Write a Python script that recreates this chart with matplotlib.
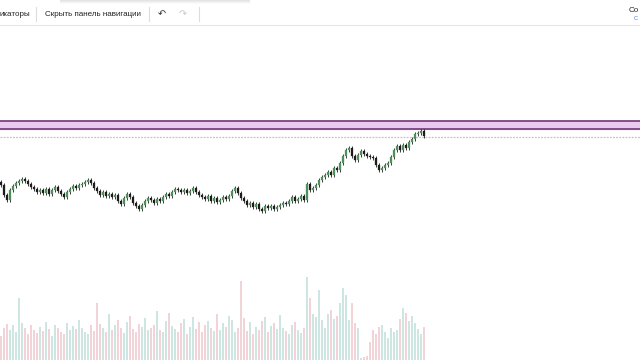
import matplotlib
matplotlib.use("Agg")
import matplotlib.pyplot as plt
import numpy as np
from matplotlib.patches import Rectangle

# Closing prices per bar (chart units)
closes = [175, 165, 160, 170, 174, 177, 179, 181, 179, 176, 173, 171, 168, 170, 167, 171,
          166, 170, 173, 169, 166, 163, 168, 171, 174, 172, 175, 176, 178, 180, 177, 172,
          169, 165, 168, 164, 166, 163, 165, 159, 156, 162, 166, 163, 157, 154, 151, 155,
          159, 162, 160, 157, 161, 159, 163, 166, 164, 168, 171, 170, 168, 170, 167, 169,
          172, 168, 165, 163, 161, 164, 159, 162, 158, 160, 163, 161, 164, 169, 172, 167,
          162, 159, 155, 157, 153, 156, 151, 149, 154, 152, 154, 151, 153, 155, 157, 156,
          159, 163, 159, 161, 164, 160, 176, 170, 172, 175, 180, 183, 185, 188, 185, 192,
          190, 197, 204, 210, 212, 204, 200, 205, 209, 206, 204, 203, 202, 195, 190, 192,
          195, 197, 203, 210, 214, 210, 215, 212, 218, 221, 226, 227, 229, 224]

# Traded volume per bar
volumes = [24, 32, 36, 30, 35, 28, 62, 37, 32, 26, 35, 30, 27, 33, 29, 38, 31, 24, 35, 32,
           28, 26, 37, 30, 34, 31, 40, 32, 28, 26, 35, 29, 57, 36, 32, 28, 46, 30, 35, 40,
           32, 27, 38, 44, 31, 28, 36, 33, 42, 30, 32, 35, 49, 30, 28, 39, 47, 34, 31, 28,
           37, 41, 26, 33, 43, 31, 38, 28, 35, 39, 32, 29, 46, 30, 37, 33, 44, 40, 28, 32,
           79, 42, 29, 38, 26, 33, 30, 39, 43, 28, 34, 37, 31, 45, 32, 29, 26, 35, 38, 30,
           27, 32, 83, 62, 46, 43, 70, 40, 32, 46, 50, 41, 44, 57, 72, 65, 40, 57, 37, 32,
           2, 3, 4, 18, 30, 26, 33, 35, 28, 22, 32, 28, 30, 41, 52, 47, 39, 44, 37, 31, 26, 33]

band_low, band_high = 231, 239     # highlighted price zone
level_line = 223                   # dotted reference level

W, H = 640, 360
fig = plt.figure(figsize=(W / 100, H / 100), dpi=100)
fig.patch.set_facecolor("white")

step = 3.0
n = len(closes)
xs = list(range(n))
x_lo = -1 / step
x_hi = x_lo + W / step

# ---- volume pane (behind) ----
vax = fig.add_axes([0, 0, 1, 1], facecolor="none")
vax.set_xlim(x_lo, x_hi)
vax.set_ylim(0, H)
vax.axis("off")
opens = [closes[0] + 3] + closes[:-1]
vcols = ["#cde6e1" if closes[i] >= opens[i] else "#f2d4d8" for i in range(n)]
vax.bar(xs, volumes, width=0.92, color=vcols, zorder=1)

# ---- price pane ----
ax = fig.add_axes([0, 0, 1, 1], facecolor="none")
ax.set_xlim(x_lo, x_hi)
ax.set_ylim(0, H)
ax.axis("off")

ax.axhspan(band_low, band_high, color="#ebc8ef", zorder=1)
ax.axhline(band_low, color="#6d3a74", lw=1.2, zorder=2)
ax.axhline(band_high, color="#6d3a74", lw=1.2, zorder=2)
ax.axhline(level_line, color="#c4c4c4", lw=0.9, ls=(0, (1.5, 1)), zorder=2)

up_col = "#4f8f5a"
dn_col = "#1c1c1c"
for i in range(n):
    o, c = opens[i], closes[i]
    col = up_col if c >= o else dn_col
    lo, hi = min(o, c), max(o, c)
    ax.vlines(xs[i], lo - 2.0, hi + 2.0, color=dn_col, lw=0.6, zorder=4)
    ax.add_patch(Rectangle((xs[i] - 0.22, lo), 0.44, max(hi - lo, 0.6),
                           facecolor=col, edgecolor=col, lw=0.2, zorder=5))

# ---- toolbar ----
# soft drop shadow of a popup above the toolbar
shade = np.linspace(0.80, 1.0, 16).reshape(-1, 1)
sax = fig.add_axes([60 / W, 1 - 4 / H, 190 / W, 4 / H])
sax.imshow(np.repeat(shade, 2, axis=1), cmap="gray", vmin=0, vmax=1,
           aspect="auto", interpolation="bilinear", alpha=0.6)
sax.axis("off")

fig.add_artist(plt.Line2D([0, 1], [1 - 25 / H, 1 - 25 / H], color="#e6e6e6", lw=0.8))
tb_y = 1 - 14 / H
font = ["Liberation Sans", "DejaVu Sans"]
fig.text(0 / W, tb_y, "икаторы", fontsize=5.8, color="#222222", va="center", ha="left",
         family=font)
fig.text(45 / W, tb_y, "Скрыть панель навигации", fontsize=5.8, color="#222222",
         va="center", ha="left", family=font)
for sx in (36, 149, 199):
    fig.add_artist(plt.Line2D([sx / W, sx / W], [1 - 7 / H, 1 - 21 / H],
                              color="#dddddd", lw=0.8))
fig.text(162 / W, tb_y, "↶", fontsize=7, color="#333333", va="center", ha="center")
fig.text(183 / W, tb_y, "↷", fontsize=7, color="#c8c8c8", va="center", ha="center")
fig.text(629 / W, 1 - 10 / H, "Со", fontsize=5.8, color="#222222", va="center", ha="left",
         family=font)
fig.text(634 / W, 1 - 18 / H, "С", fontsize=4.2, color="#4a7dd6", va="center", ha="left",
         family=font)

fig.savefig("out.png", dpi=100, facecolor="white")
